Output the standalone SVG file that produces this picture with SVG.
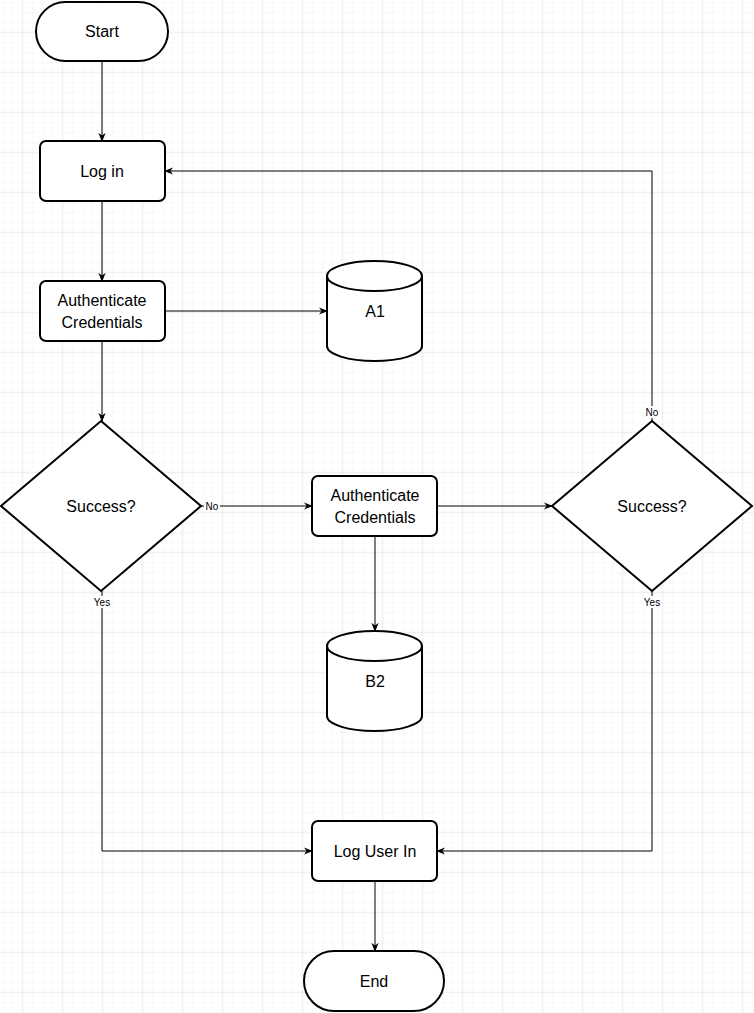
<svg xmlns="http://www.w3.org/2000/svg" width="754" height="1013" viewBox="0 0 754 1013">
<defs>
<pattern id="minor" x="1.7" y="1.7" width="10" height="10" patternUnits="userSpaceOnUse"><path d="M10 0V10H0" fill="none" stroke="#efefef" stroke-width="1"/></pattern>
<pattern id="major" x="21.7" y="31.7" width="40" height="40" patternUnits="userSpaceOnUse"><rect width="40" height="40" fill="url(#minor)"/><path d="M0 0V40M0 0H40" fill="none" stroke="#e0e0e0" stroke-width="1"/></pattern>
<marker id="ar" viewBox="0 0 10 10" refX="9" refY="5" markerWidth="9" markerHeight="9" markerUnits="userSpaceOnUse" orient="auto"><path d="M0 1L10 5L0 9L3 5Z" fill="#000"/></marker>
<style>
.s{fill:#fff;stroke:#000;stroke-width:2}
.t{font-family:"Liberation Sans",Arial,sans-serif;font-size:16px;text-anchor:middle;fill:#000}
.l{font-family:"Liberation Sans",Arial,sans-serif;font-size:10px;text-anchor:middle;fill:#000}
.c{fill:none;stroke:#000;stroke-width:1;marker-end:url(#ar)}
</style>
</defs>
<rect width="754" height="1013" fill="#fff"/>
<rect width="754" height="1013" fill="url(#major)"/>
<g id="connectors">
<path class="c" d="M102 61V141"/>
<path class="c" d="M102 201V281"/>
<path class="c" d="M165 311H327"/>
<path class="c" d="M102 341V421"/>
<path class="c" d="M201 506H312"/>
<path class="c" d="M437 506H552"/>
<path class="c" d="M375 536V631"/>
<path class="c" d="M102 591V851H312"/>
<path class="c" d="M652 591V851H437"/>
<path class="c" d="M652 421V171H165"/>
<path class="c" d="M375 881V951"/>
<rect x="204" y="500" width="16" height="12" fill="#fff"/><text class="l" x="212" y="510">No</text>
<rect x="92" y="596" width="20" height="12" fill="#fff"/><text class="l" x="102" y="606">Yes</text>
<rect x="642" y="596" width="20" height="12" fill="#fff"/><text class="l" x="652" y="606">Yes</text>
<rect x="644" y="406" width="16" height="12" fill="#fff"/><text class="l" x="652" y="416">No</text>
</g>
<g id="start"><rect class="s" x="36" y="2" width="132" height="59" rx="29.5"/><text class="t" x="102" y="37">Start</text></g>
<g id="login"><rect class="s" x="40" y="141" width="125" height="60" rx="6"/><text class="t" x="102" y="177">Log in</text></g>
<g id="auth1"><rect class="s" x="40" y="281" width="125" height="60" rx="6"/><text class="t" x="102" y="306">Authenticate</text><text class="t" x="102" y="328">Credentials</text></g>
<g id="a1"><path class="s" d="M327 276A47.5 15 0 0 1 422 276V346A47.5 15 0 0 1 327 346Z"/><path class="s" d="M327 276A47.5 15 0 0 0 422 276" fill="none"/><text class="t" x="375" y="317">A1</text></g>
<g id="d1"><path class="s" d="M101 421L201 506L101 591L1 506Z"/><text class="t" x="101" y="512">Success?</text></g>
<g id="auth2"><rect class="s" x="312" y="476" width="125" height="60" rx="6"/><text class="t" x="375" y="501">Authenticate</text><text class="t" x="375" y="523">Credentials</text></g>
<g id="b2"><path class="s" d="M327 646A47.5 15 0 0 1 422 646V716A47.5 15 0 0 1 327 716Z"/><path class="s" d="M327 646A47.5 15 0 0 0 422 646" fill="none"/><text class="t" x="375" y="687">B2</text></g>
<g id="d2"><path class="s" d="M652 421L752 506L652 591L552 506Z"/><text class="t" x="652" y="512">Success?</text></g>
<g id="loguser"><rect class="s" x="312" y="821" width="125" height="60" rx="6"/><text class="t" x="375" y="857">Log User In</text></g>
<g id="end"><rect class="s" x="304" y="951" width="140" height="60" rx="30"/><text class="t" x="374" y="987">End</text></g>
</svg>
